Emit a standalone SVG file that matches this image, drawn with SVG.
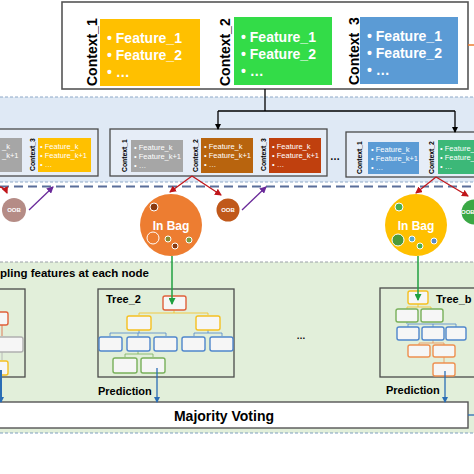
<svg xmlns="http://www.w3.org/2000/svg" width="474" height="474" viewBox="0 0 474 474">
<style>
.ctx{font-family:"Liberation Sans",Arial,sans-serif;font-weight:bold;font-size:14px;fill:#000}
.ft{font-family:"Liberation Sans",Arial,sans-serif;font-weight:bold;font-size:14px;fill:#fff}
.sctx{font-family:"Liberation Sans",Arial,sans-serif;font-weight:bold;font-size:6.8px;fill:#000}
.sft{font-family:"Liberation Sans",Arial,sans-serif;font-size:7.5px;fill:#fff}
.lbl{font-family:"Liberation Sans",Arial,sans-serif;font-weight:bold;fill:#000}
.oob{font-family:"Liberation Sans",Arial,sans-serif;font-weight:bold;font-size:6px;fill:#fff}
.bag{font-family:"Liberation Sans",Arial,sans-serif;font-weight:bold;font-size:12px;fill:#fff}
.sbox{fill:#e6edf7;stroke:#4a4a4a;stroke-width:1.3}
.tbox{fill:none;stroke:#4a4a4a;stroke-width:1.3}
.nd{fill:#f6f6f6;stroke-width:1.4}
.r{stroke:#e0603a}.y{stroke:#f5c020}.b{stroke:#4f86cc}.g{stroke:#78b05a}.o{stroke:#ee9050}.gr{stroke:#b0b0b0}
.ln{fill:none;stroke-width:0.8}
</style>
<defs>
<marker id="ak" markerWidth="6" markerHeight="6" refX="5" refY="3" orient="auto" markerUnits="userSpaceOnUse"><path d="M0,0 L6,3 L0,6 z" fill="#000"/></marker>
<marker id="ar" markerWidth="7" markerHeight="7" refX="6" refY="3.5" orient="auto" markerUnits="userSpaceOnUse"><path d="M0,0 L7,3.5 L0,7 z" fill="#c0151a"/></marker>
<marker id="ap" markerWidth="7" markerHeight="7" refX="6" refY="3.5" orient="auto" markerUnits="userSpaceOnUse"><path d="M0,0 L7,3.5 L0,7 z" fill="#6a2a9a"/></marker>
<marker id="ag" markerWidth="7" markerHeight="7" refX="6" refY="3.5" orient="auto" markerUnits="userSpaceOnUse"><path d="M0,0 L7,3.5 L0,7 z" fill="#20a040"/></marker>
<marker id="ab" markerWidth="6" markerHeight="6" refX="5" refY="3" orient="auto" markerUnits="userSpaceOnUse"><path d="M0,0 L6,3 L0,6 z" fill="#2a6db5"/></marker>
</defs>
<rect width="474" height="474" fill="#fff"/>
<!-- bands -->
<rect x="0" y="97" width="474" height="85" fill="#dfe9f5"/>
<line x1="0" y1="97" x2="474" y2="97" stroke="#8ea9c8" stroke-width="1" stroke-dasharray="3,2"/>
<line x1="0" y1="182" x2="474" y2="182" stroke="#8ea9c8" stroke-width="1" stroke-dasharray="3,2"/>
<line x1="0" y1="186.5" x2="474" y2="186.5" stroke="#5a6e9a" stroke-width="1.8" stroke-dasharray="9,5"/>
<rect x="0" y="262" width="474" height="171" fill="#e2efda"/>
<line x1="0" y1="262" x2="474" y2="262" stroke="#9aa0a8" stroke-width="1" stroke-dasharray="3,2"/>
<line x1="0" y1="433" x2="474" y2="433" stroke="#7f9fbf" stroke-width="1" stroke-dasharray="3,2"/>

<!-- top node -->
<g id="contexts">
<rect x="62" y="2" width="406" height="87" fill="#fff" stroke="#555" stroke-width="1.6"/>
<text class="ctx" transform="translate(97,86) rotate(-90)">Context_1</text>
<rect x="100" y="19" width="100" height="67" fill="#ffc000"/>
<text class="ft" x="107" y="43">• Feature_1</text>
<text class="ft" x="107" y="60">• Feature_2</text>
<text class="ft" x="107" y="77">• …</text>
<text class="ctx" transform="translate(230,86) rotate(-90)">Context_2</text>
<rect x="234" y="17" width="98" height="68" fill="#33dc48"/>
<text class="ft" x="241" y="42">• Feature_1</text>
<text class="ft" x="241" y="59">• Feature_2</text>
<text class="ft" x="241" y="76">• …</text>
<text class="ctx" transform="translate(359,85) rotate(-90)">Context_3</text>
<rect x="360" y="17" width="98" height="67" fill="#5b9bd5"/>
<text class="ft" x="367" y="41">• Feature_1</text>
<text class="ft" x="367" y="58">• Feature_2</text>
<text class="ft" x="367" y="75">• …</text>
</g>

<!-- bootstrap boxes -->
<g id="sample_a">
<rect class="sbox" x="-5" y="129" width="103" height="47"/>
<rect x="0" y="138" width="22" height="34" fill="#a6a6a6"/>
<text class="sft" x="2" y="149">_k</text>
<text class="sft" x="2" y="158">_k+1</text>
<text class="sctx" transform="translate(35,171) rotate(-90)">Context_3</text>
<rect x="38" y="138" width="53" height="34" fill="#ffc000"/>
<text class="sft" x="40" y="149">• Feature_k</text>
<text class="sft" x="40" y="158">• Feature_k+1</text>
<text class="sft" x="40" y="167">• …</text>
</g>
<g id="sample_b">
<rect class="sbox" x="110" y="129" width="217" height="47"/>
<text class="sctx" transform="translate(127,172) rotate(-90)">Context_1</text>
<rect x="131" y="140" width="52" height="32" fill="#a6a6a6"/>
<text class="sft" x="134" y="150">• Feature_k</text>
<text class="sft" x="134" y="159">• Feature_k+1</text>
<text class="sft" x="134" y="168">• …</text>
<text class="sctx" transform="translate(198,172) rotate(-90)">Context_2</text>
<rect x="201" y="138" width="52" height="35" fill="#b8640e"/>
<text class="sft" x="204" y="149">• Feature_k</text>
<text class="sft" x="204" y="158">• Feature_k+1</text>
<text class="sft" x="204" y="167">• …</text>
<text class="sctx" transform="translate(266,171) rotate(-90)">Context_3</text>
<rect x="269" y="138" width="52" height="35" fill="#c0400e"/>
<text class="sft" x="272" y="149">• Feature_k</text>
<text class="sft" x="272" y="158">• Feature_k+1</text>
<text class="sft" x="272" y="167">• …</text>
</g>
<text class="lbl" x="335" y="160" font-size="10" text-anchor="middle">…</text>
<g id="sample_c">
<rect class="sbox" x="346" y="132" width="135" height="45"/>
<text class="sctx" transform="translate(362,174) rotate(-90)">Context_1</text>
<rect x="368" y="142" width="51" height="32" fill="#5b9bd5"/>
<text class="sft" x="371" y="152">• Feature_k</text>
<text class="sft" x="371" y="161">• Feature_k+1</text>
<text class="sft" x="371" y="170">• …</text>
<text class="sctx" transform="translate(434,174) rotate(-90)">Context_2</text>
<rect x="438" y="140" width="40" height="34" fill="#3cb878"/>
<text class="sft" x="440" y="151" font-size="7">• Feature_</text>
<text class="sft" x="440" y="160" font-size="7">• Feature_</text>
<text class="sft" x="440" y="169" font-size="7">• …</text>
</g>

<!-- OOB and In Bag -->
<g id="oob_a"><circle cx="14" cy="210" r="12" fill="#b58c86"/><text class="oob" x="14" y="212" text-anchor="middle">OOB</text></g>
<g id="oob_b"><circle cx="228" cy="210" r="11.5" fill="#c0581a"/><text class="oob" x="228" y="212" text-anchor="middle">OOB</text></g>
<g id="oob_c"><circle cx="474" cy="212" r="12.5" fill="#3aa845"/><text class="oob" x="461" y="214" font-size="5.5">OOB</text></g>
<g id="inbag_b">
<circle cx="171" cy="225" r="31" fill="#ed7d31"/>
<text class="bag" x="171" y="230" text-anchor="middle">In Bag</text>
<circle cx="154" cy="207" r="4" fill="#8a3a10" stroke="#fff" stroke-width="1"/>
<circle cx="153" cy="238" r="6" fill="#ed7d31" stroke="#fff" stroke-width="1"/>
<circle cx="168" cy="239" r="3" fill="#8a8a30" stroke="#fff" stroke-width="1"/>
<circle cx="175" cy="246" r="3" fill="#8a3a10" stroke="#fff" stroke-width="1"/>
<circle cx="189" cy="240" r="3" fill="#7a9a40" stroke="#fff" stroke-width="1"/>
</g>
<g id="inbag_c">
<circle cx="416" cy="225" r="31" fill="#ffc000"/>
<text class="bag" x="416" y="230" text-anchor="middle">In Bag</text>
<circle cx="399" cy="207" r="4" fill="#4caf50" stroke="#fff" stroke-width="1"/>
<circle cx="398" cy="240" r="6" fill="#4c9a3a" stroke="#fff" stroke-width="1"/>
<circle cx="412" cy="239" r="3" fill="#5aa8c8" stroke="#fff" stroke-width="1"/>
<circle cx="420" cy="246" r="3" fill="#4caf50" stroke="#fff" stroke-width="1"/>
<circle cx="434" cy="241" r="3" fill="#5a8ac8" stroke="#fff" stroke-width="1"/>
</g>

<text class="lbl" x="0" y="277" font-size="11.5">pling features at each node</text>

<!-- trees -->
<g id="tree_1">
<rect class="tbox" x="-5" y="289" width="30" height="88"/>
<path class="ln r" d="M2,325 V336"/>
<rect class="nd r" x="-6" y="312" width="14" height="13" rx="2"/>
<rect class="nd gr" x="-6" y="337" width="29" height="15" rx="2"/>
<path class="ln gr" d="M2,352 V360"/>
<rect class="nd y" x="-6" y="361" width="14" height="14" rx="2"/>
</g>
<g id="tree_2">
<rect class="tbox" x="98" y="289" width="136" height="88"/>
<text class="lbl" x="106" y="303" font-size="11">Tree_2</text>
<path class="ln y" d="M174,310 V313 M139,315 V313 H208 V315"/>
<path class="ln b" d="M139,330 V333 M110,336 V333 H166 V336 M138,333 V336"/>
<path class="ln b" d="M208,330 V333 M194,336 V333 H222 V336"/>
<path class="ln g" d="M138,351 V354 M125,357 V354 H153 V357"/>
<rect class="nd r" x="163" y="296" width="23" height="14" rx="2"/>
<rect class="nd y" x="127" y="316" width="24" height="14" rx="2"/>
<rect class="nd y" x="196" y="316" width="24" height="14" rx="2"/>
<rect class="nd b" x="99" y="337" width="23" height="14" rx="2"/>
<rect class="nd b" x="127" y="337" width="23" height="14" rx="2"/>
<rect class="nd b" x="154" y="337" width="23" height="14" rx="2"/>
<rect class="nd b" x="182" y="337" width="23" height="14" rx="2"/>
<rect class="nd b" x="210" y="337" width="23" height="14" rx="2"/>
<rect class="nd g" x="113" y="358" width="24" height="15" rx="2"/>
<rect class="nd g" x="141" y="358" width="24" height="15" rx="2"/>
</g>
<text class="lbl" x="301" y="339" font-size="9" text-anchor="middle">…</text>
<g id="tree_b">
<rect class="tbox" x="380" y="288" width="100" height="89"/>
<text class="lbl" x="436" y="303" font-size="11">Tree_b</text>
<path class="ln y" d="M418,304 V307 M407,309 V307 H431 V309"/>
<path class="ln b" d="M407,322 V324 M408,327 V324 H456 V327 M433,324 V327"/>
<path class="ln o" d="M433,340 V343 M419,345 V343 H444 V345"/>
<path class="ln o" d="M444,357 V363"/>
<rect class="nd y" x="408" y="291" width="20" height="13" rx="2"/>
<rect class="nd g" x="396" y="309" width="22" height="13" rx="2"/>
<rect class="nd g" x="421" y="309" width="22" height="13" rx="2"/>
<rect class="nd b" x="397" y="327" width="22" height="13" rx="2"/>
<rect class="nd b" x="422" y="327" width="22" height="13" rx="2"/>
<rect class="nd b" x="446" y="327" width="20" height="13" rx="2"/>
<rect class="nd o" x="408" y="345" width="22" height="12" rx="2"/>
<rect class="nd o" x="433" y="345" width="22" height="12" rx="2"/>
<rect class="nd o" x="433" y="363" width="22" height="13" rx="2"/>
</g>

<g id="voting">
<rect x="-5" y="402" width="473" height="26" fill="#fff" stroke="#555" stroke-width="1.4"/>
<text class="lbl" x="224" y="421" font-size="14" text-anchor="middle">Majority Voting</text>
</g>
<text class="lbl" x="98" y="395" font-size="11">Prediction</text>
<text class="lbl" x="386" y="394" font-size="11">Prediction</text>

<!-- connectors -->
<g id="connectors" fill="none">
<line x1="468" y1="45" x2="474" y2="45" stroke="#ed7d31" stroke-width="1.5"/>
<path d="M265,89 V111 M218,111 H455" stroke="#000" stroke-width="1.3"/>
<line x1="218" y1="111" x2="218" y2="129" stroke="#000" stroke-width="1.3" marker-end="url(#ak)"/>
<line x1="455" y1="111" x2="455" y2="132" stroke="#000" stroke-width="1.3" marker-end="url(#ak)"/>
<path d="M0,187 Q5,188 7,193" stroke="#c0151a" stroke-width="1.3" marker-end="url(#ar)"/>
<line x1="192" y1="176" x2="170" y2="192" stroke="#c0151a" stroke-width="1.3" marker-end="url(#ar)"/>
<line x1="192" y1="176" x2="221" y2="195" stroke="#c0151a" stroke-width="1.3" marker-end="url(#ar)"/>
<line x1="436" y1="177" x2="416" y2="193" stroke="#c0151a" stroke-width="1.3" marker-end="url(#ar)"/>
<line x1="436" y1="177" x2="468" y2="196" stroke="#c0151a" stroke-width="1.3" marker-end="url(#ar)"/>
<line x1="29" y1="210" x2="53" y2="187" stroke="#6a2a9a" stroke-width="1.3" marker-end="url(#ap)"/>
<line x1="242" y1="210" x2="266" y2="187" stroke="#6a2a9a" stroke-width="1.3" marker-end="url(#ap)"/>
<line x1="172" y1="256" x2="172" y2="304" stroke="#20a040" stroke-width="1.5" marker-end="url(#ag)"/>
<line x1="418" y1="256" x2="418" y2="300" stroke="#20a040" stroke-width="1.5" marker-end="url(#ag)"/>
<line x1="1" y1="370" x2="1" y2="402" stroke="#2a6db5" stroke-width="2" marker-end="url(#ab)"/>
<line x1="157" y1="368" x2="157" y2="402" stroke="#2a6db5" stroke-width="1.3" marker-end="url(#ab)"/>
<line x1="445" y1="371" x2="445" y2="402" stroke="#2a6db5" stroke-width="1.3" marker-end="url(#ab)"/>
<line x1="468" y1="415" x2="474" y2="415" stroke="#2a6db5" stroke-width="1.3"/>
</g>
</svg>
